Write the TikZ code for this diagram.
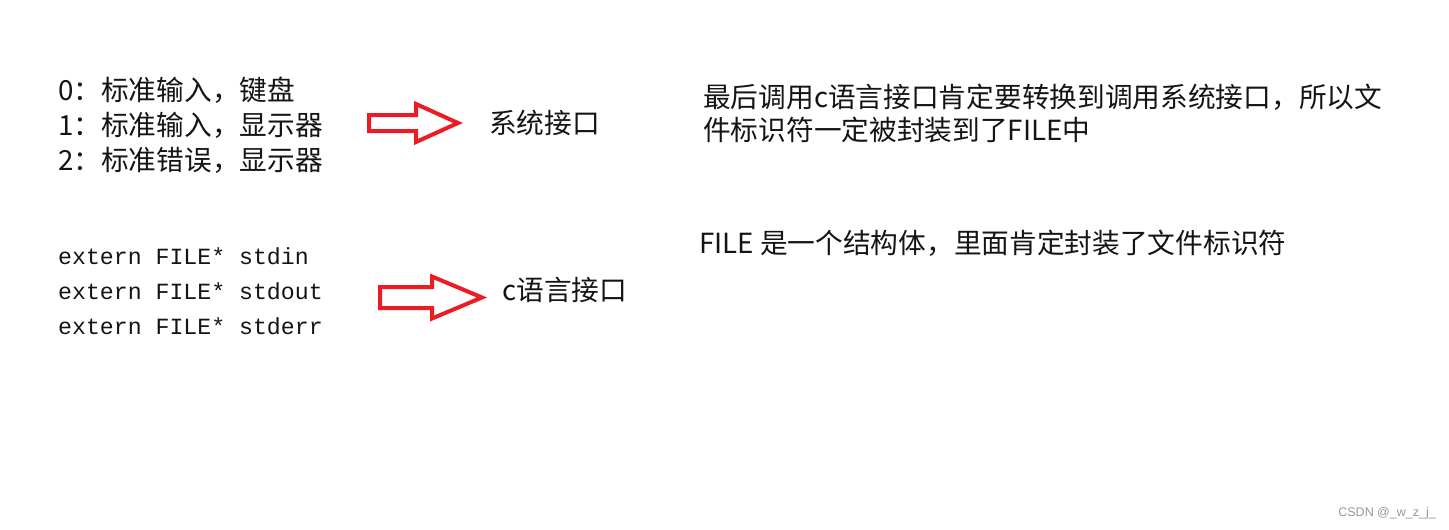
\documentclass[tikz,border=0pt]{standalone}
\usepackage{fontspec}
\usepackage{xcolor}
\usepackage{tikz}
\usetikzlibrary{positioning, calc}
\setmainfont{Noto Sans CJK SC}
\setsansfont{Liberation Sans}
\setmonofont{Liberation Mono}
\definecolor{arrowred}{RGB}{237, 28, 36}
\definecolor{darktext}{RGB}{20, 20, 20}
\definecolor{marktext}{RGB}{150, 150, 150}

\begin{document}
\begin{tikzpicture}[
    x=1pt, y=-1pt,
    cjktext/.style={anchor=west, inner sep=0pt, align=left, text=darktext,
                    font=\fontsize{27.7pt}{35pt}\selectfont},
    codetext/.style={anchor=west, inner sep=0pt, align=left, text=darktext,
                     font=\ttfamily\fontsize{23.2pt}{35pt}\selectfont},
    notetext/.style={cjktext, font=\fontsize{27.7pt}{33.5pt}\selectfont},
    hollow/.style={draw=arrowred, line width=4pt, line join=miter}
]
\useasboundingbox (0,0) rectangle (1449,530);

% File descriptors
\node[cjktext] (fdlist) at (58,125) {0：标准输入，键盘\\1：标准输入，显示器\\2：标准错误，显示器};
\coordinate (sysarr) at (369,123);
\draw[hollow, shift={(sysarr)}] (0,-8) -- (47,-8) -- (47,-19) -- (89,0)
    -- (47,19) -- (47,8) -- (0,8) -- cycle;
\node[cjktext] (syslabel) at (489,123) {系统接口};

% C streams
\node[codetext] (streams) at (58,291) {extern FILE* stdin\\extern FILE* stdout\\extern FILE* stderr};
\coordinate (carr) at (380,297.5);
\draw[hollow, shift={(carr)}] (0,-10.5) -- (52,-10.5) -- (52,-21) -- (102,0)
    -- (52,21) -- (52,10.5) -- (0,10.5) -- cycle;
\node[cjktext] (clabel) at (502,290) {c语言接口};

% Notes
\node[notetext] (note1) at (703,113.5) {最后调用c语言接口肯定要转换到调用系统接口，所以文\\件标识符一定被封装到了FILE中};
\node[cjktext] (note2) at (699,243) {FILE 是一个结构体，里面肯定封装了文件标识符};

% Watermark
\node[anchor=east, inner sep=0pt, text=marktext,
      font=\sffamily\fontsize{12.5pt}{14pt}\selectfont] (mark) at (1436,513) {CSDN @\_w\_z\_j\_};

\end{tikzpicture}
\end{document}
